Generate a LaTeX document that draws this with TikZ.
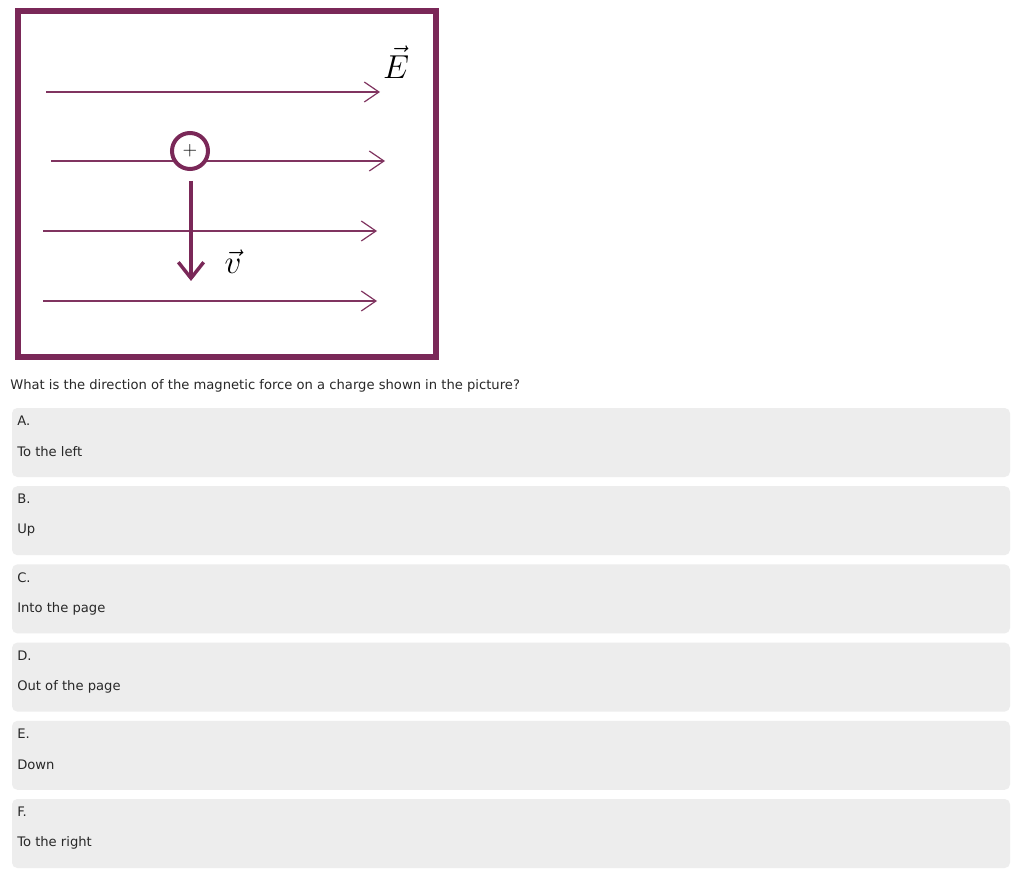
\documentclass[tikz,border=0pt]{standalone}
\usepackage{fontspec}
\setsansfont{DejaVu Sans}
\usepackage{tikz}
\usetikzlibrary{arrows.meta}

\definecolor{frame}{RGB}{122,40,88}
\definecolor{field}{RGB}{128,52,96}
\definecolor{optbg}{RGB}{237,237,237}
\definecolor{txt}{RGB}{40,40,40}

\begin{document}
\begin{tikzpicture}[x=0.75pt, y=-0.75pt,
  fieldline/.style={field, line width=1.1pt, -{Straight Barb[length=11pt, width=15pt, line width=0.9pt]}},
  option/.style={fill=optbg, rounded corners=4pt, draw=none},
  lbl/.style={font=\sffamily\fontsize{9.85}{11}\selectfont, text=txt, anchor=west, inner sep=0pt}]
\useasboundingbox (0,0) rectangle (1024,880);
\fill[white] (0,0) rectangle (1024,880);

% the picture
\draw[frame, line width=3.8pt] (18,11) rectangle (436,357);
\foreach \ya/\xa/\xb in {92/46/380, 161/51/385, 231/43/377, 301/43/377} {
  \coordinate (l\ya) at (\xa,\ya);
  \coordinate (r\ya) at (\xb,\ya);
  \draw[fieldline] (l\ya) -- (r\ya);
}
\node[circle, draw=frame, fill=white, line width=3pt, minimum size=27pt, inner sep=0pt] (q) at (190,151) {\fontsize{15}{15}\selectfont$+$};
\coordinate (vtop) at (191,181);
\coordinate (vtip) at (191,281);
\draw[frame, line width=3pt, -{Straight Barb[length=12pt, width=19pt, line width=2.6pt]}] (vtop) -- (vtip);
\node[font=\fontsize{27}{28}\selectfont] (E) at (396,62) {$\vec{E}$};
\node[font=\fontsize{28}{28}\selectfont] (v) at (233,262) {$\vec{v}$};

% question and options
\node[lbl] (ques) at (10,386) {What is the direction of the magnetic force on a charge shown in the picture?};
\foreach \k/\lt/\ans [count=\i from 0] in {a/A./To the left, b/B./Up, c/C./Into the page, d/D./Out of the page, e/E./Down, f/F./To the right} {
  \fill[option] (12,408+78.2*\i) rectangle (1010,477+78.2*\i);
  \node[lbl] (\k) at (17,421+78.2*\i) {\lt};
  \node[lbl] (\k ans) at (17,452+78.2*\i) {\ans};
}
\end{tikzpicture}
\end{document}
